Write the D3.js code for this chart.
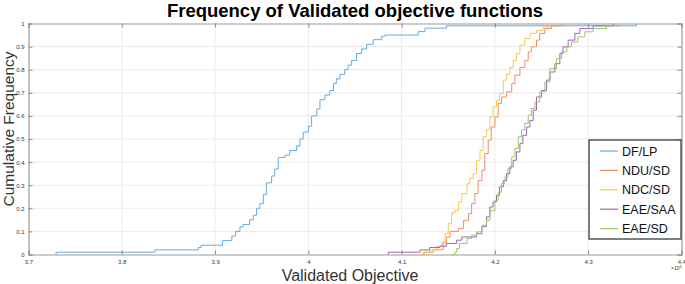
<!DOCTYPE html>
<html>
<head>
<meta charset="utf-8">
<script src="https://cdn.jsdelivr.net/npm/d3@7"></script>
<style>
  body { margin: 0; background: #fff; }
  svg { font-family: "Liberation Sans", Arial, sans-serif; }
</style>
</head>
<body>
<div id="chart"></div>
<script>
// x values are in units of 10^4, y is cumulative frequency
const seriesNames = ["DF/LP", "NDU/SD", "NDC/SD", "EAE/SAA", "EAE/SD"];
const seriesColors = ["#64abe0", "#ee8c68", "#f7c757", "#a064b3", "#9cc667"];

const dfLp = [[3.7295, 0], [3.7295, 0.01], [3.8356, 0.02], [3.882, 0.03], [3.885, 0.04], [3.908, 0.06],
    [3.918, 0.08], [3.922, 0.10], [3.9267, 0.12], [3.930, 0.13], [3.937, 0.15], [3.941, 0.17],
    [3.9445, 0.20], [3.948, 0.22], [3.9517, 0.26], [3.955, 0.31], [3.9606, 0.34], [3.964, 0.37],
    [3.9677, 0.42], [3.975, 0.43], [3.980, 0.45], [3.9875, 0.47], [3.991, 0.50], [3.9945, 0.53],
    [4.000, 0.555], [4.0035, 0.60], [4.009, 0.63], [4.0124, 0.67], [4.0178, 0.69], [4.023, 0.71],
    [4.027, 0.74], [4.030, 0.76], [4.0338, 0.78], [4.039, 0.80], [4.0425, 0.82], [4.0464, 0.84],
    [4.0517, 0.87], [4.057, 0.89], [4.0625, 0.91], [4.0695, 0.93], [4.0786, 0.945], [4.082, 0.95],
    [4.1178, 0.965], [4.125, 0.98], [4.148, 0.99], [4.3517, 1.0]];

const nduSd = [[4.121, 0], [4.124, 0.01], [4.134, 0.02], [4.1445, 0.05], [4.148, 0.075], [4.152, 0.10],
    [4.161, 0.113], [4.1664, 0.148], [4.1718, 0.177], [4.175, 0.22], [4.1785, 0.264], [4.182, 0.32],
    [4.186, 0.365], [4.1892, 0.437], [4.1928, 0.495], [4.196, 0.552], [4.200, 0.596], [4.2035, 0.654],
    [4.207, 0.682], [4.2125, 0.704], [4.218, 0.74], [4.2214, 0.776], [4.2268, 0.81], [4.232, 0.84],
    [4.2357, 0.877], [4.239, 0.899], [4.2446, 0.928], [4.248, 0.957], [4.2535, 0.978], [4.2607, 0.99],
    [4.273, 1.0]];

const ndcSd = [[4.1196, 0], [4.123, 0.01], [4.130, 0.02], [4.1375, 0.036], [4.143, 0.055], [4.1464, 0.09],
    [4.150, 0.134], [4.1536, 0.18], [4.157, 0.19], [4.161, 0.228], [4.1645, 0.264], [4.170, 0.307],
    [4.173, 0.33], [4.1767, 0.35], [4.1803, 0.408], [4.184, 0.45], [4.1874, 0.51], [4.191, 0.54],
    [4.1946, 0.596], [4.198, 0.64], [4.2017, 0.668], [4.205, 0.697], [4.209, 0.755], [4.2125, 0.78],
    [4.216, 0.81], [4.2196, 0.84], [4.223, 0.87], [4.2268, 0.906], [4.232, 0.935], [4.2375, 0.957],
    [4.2446, 0.97], [4.2517, 0.985], [4.259, 1.0]];

const eaeSaa = [[4.0857, 0], [4.0857, 0.01], [4.1196, 0.02], [4.130, 0.03], [4.141, 0.036], [4.148, 0.048],
    [4.159, 0.062], [4.1645, 0.076], [4.1803, 0.09], [4.186, 0.12], [4.191, 0.163], [4.1946, 0.206],
    [4.198, 0.228], [4.2017, 0.257], [4.205, 0.293], [4.209, 0.32], [4.2125, 0.35], [4.216, 0.38],
    [4.2196, 0.408], [4.223, 0.444], [4.2268, 0.48], [4.230, 0.516], [4.234, 0.552], [4.2375, 0.58],
    [4.241, 0.625], [4.2446, 0.682], [4.250, 0.71], [4.2554, 0.755], [4.259, 0.79], [4.2643, 0.826],
    [4.2696, 0.87], [4.273, 0.899], [4.2785, 0.928], [4.2857, 0.957], [4.291, 0.978], [4.3053, 0.99],
    [4.327, 1.0]];

const eaeSd = [[4.1536, 0], [4.157, 0.01], [4.159, 0.026], [4.162, 0.048], [4.170, 0.069], [4.175, 0.083],
    [4.1803, 0.098], [4.186, 0.127], [4.191, 0.148], [4.1946, 0.19], [4.200, 0.235], [4.2035, 0.27],
    [4.207, 0.307], [4.2107, 0.336], [4.214, 0.372], [4.218, 0.422], [4.2214, 0.459], [4.225, 0.51],
    [4.2285, 0.54], [4.232, 0.567], [4.2357, 0.603], [4.239, 0.632], [4.243, 0.66], [4.248, 0.704],
    [4.2535, 0.747], [4.259, 0.805], [4.266, 0.848], [4.2714, 0.877], [4.277, 0.899], [4.282, 0.92],
    [4.289, 0.942], [4.2964, 0.964], [4.3053, 0.978], [4.3196, 0.99], [4.334, 1.0]];

const allSeries = [dfLp, nduSd, ndcSd, eaeSaa, eaeSd];
const xTicks = [3.7, 3.8, 3.9, 4.0, 4.1, 4.2, 4.3, 4.4];
const yTicks = [0, 0.1, 0.2, 0.3, 0.4, 0.5, 0.6, 0.7, 0.8, 0.9, 1];

//Set up sizes
const width = 685, height = 284;
const margin = {top: 23.5, right: 3.5, bottom: 29.5, left: 28.5};
const plotW = width - margin.left - margin.right;
const plotH = height - margin.top - margin.bottom;

const svg = d3.select("#chart").append("svg")
    .attr("width", width)
    .attr("height", height);

const g = svg.append("g")
    .attr("transform", "translate(" + margin.left + "," + margin.top + ")");

const xScale = d3.scaleLinear().domain([3.7, 4.4]).range([0, plotW]);
const yScale = d3.scaleLinear().domain([0, 1]).range([plotH, 0]);

//Grid lines
g.append("g")
    .selectAll("line")
    .data(xTicks.slice(1, -1))
    .enter().append("line")
    .attr("x1", d => xScale(d)).attr("x2", d => xScale(d))
    .attr("y1", 0).attr("y2", plotH)
    .attr("stroke", "#ebebeb");
g.append("g")
    .selectAll("line")
    .data(yTicks.slice(1, -1))
    .enter().append("line")
    .attr("x1", 0).attr("x2", plotW)
    .attr("y1", d => yScale(d)).attr("y2", d => yScale(d))
    .attr("stroke", "#ebebeb");

//Axes (ticks pointing inward, matlab style)
const fmtX = d => d3.format("")(+d.toFixed(1));
const xAxis = g.append("g")
    .attr("transform", "translate(0," + plotH + ")")
    .call(d3.axisBottom(xScale).tickValues(xTicks).tickSize(-4).tickPadding(5).tickFormat(fmtX));
const xAxisTop = g.append("g")
    .call(d3.axisTop(xScale).tickValues(xTicks).tickSize(-4).tickFormat(""));
const yAxis = g.append("g")
    .call(d3.axisLeft(yScale).tickValues(yTicks).tickSize(-4).tickPadding(4).tickFormat(d3.format("")));
const yAxisRight = g.append("g")
    .attr("transform", "translate(" + plotW + ",0)")
    .call(d3.axisRight(yScale).tickValues(yTicks).tickSize(-4).tickFormat(""));

[xAxis, xAxisTop, yAxis, yAxisRight].forEach(function (a) {
    a.select(".domain").attr("stroke", "#9a9a9a").attr("stroke-width", 1.2);
    a.selectAll(".tick line").attr("stroke", "#8a8a8a");
    a.selectAll(".tick text").attr("fill", "#333").style("font-size", "6px");
});

//Exponent label
svg.append("text")
    .attr("x", 671).attr("y", 270)
    .attr("fill", "#444")
    .style("font-size", "5px")
    .text("\u00d710")
    .append("tspan")
    .attr("dy", -2)
    .style("font-size", "4px")
    .text("4");

//Curves
const line = d3.line()
    .x(d => xScale(d[0]))
    .y(d => yScale(d[1]))
    .curve(d3.curveStepAfter);

g.selectAll(".ecdf")
    .data(allSeries)
    .enter().append("path")
    .attr("class", "ecdf")
    .attr("d", line)
    .attr("fill", "none")
    .attr("stroke", (d, i) => seriesColors[i])
    .attr("stroke-width", 1);

//Legend
const legend = svg.append("g").attr("transform", "translate(589,140)");
legend.append("rect")
    .attr("width", 92).attr("height", 99)
    .attr("fill", "#fff")
    .attr("stroke", "#555")
    .attr("stroke-width", 1.5);
const legendItems = legend.selectAll(".legend-item")
    .data(seriesNames)
    .enter().append("g")
    .attr("class", "legend-item")
    .attr("transform", (d, i) => "translate(0," + (11 + i * 19.4) + ")");
legendItems.append("line")
    .attr("x1", 11).attr("x2", 29)
    .attr("stroke", (d, i) => seriesColors[i])
    .attr("stroke-width", 1.2);
legendItems.append("text")
    .attr("x", 33).attr("y", 4.5)
    .attr("fill", "#111")
    .style("font-size", "12.5px")
    .text(d => d);

//Titles
svg.append("text")
    .attr("x", 355).attr("y", 17)
    .attr("text-anchor", "middle")
    .style("font-size", "18.5px")
    .style("font-weight", "bold")
    .attr("fill", "#000")
    .text("Frequency of Validated objective functions");

svg.append("text")
    .attr("x", 350).attr("y", 281)
    .attr("text-anchor", "middle")
    .style("font-size", "16px")
    .attr("fill", "#333")
    .text("Validated Objective");

svg.append("text")
    .attr("transform", "translate(14,129) rotate(-90)")
    .attr("text-anchor", "middle")
    .style("font-size", "15.5px")
    .attr("fill", "#333")
    .text("Cumulative Frequency");
</script>
</body>
</html>
